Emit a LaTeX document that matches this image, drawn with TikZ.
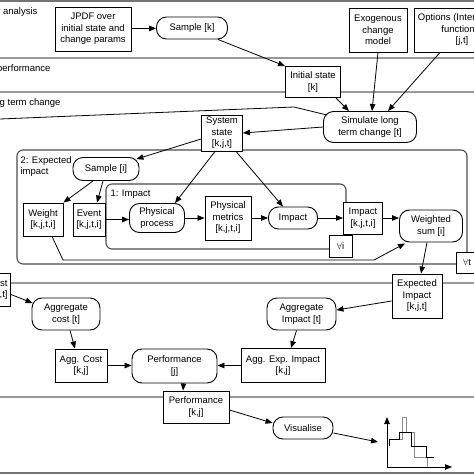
\documentclass[tikz,border=0pt]{standalone}
\usepackage{fontspec}
\setmainfont{Liberation Sans}
\usetikzlibrary{arrows.meta, positioning, calc}

\begin{document}
\begin{tikzpicture}[x=1pt, y=-1pt]
    % --- Style Definitions ---
    \tikzset{
        data box/.style={
            draw=black,
            line width=0.9pt,
            fill=white,
            align=center,
            inner sep=1pt,
            font=\fontsize{9.5}{11.5}\selectfont
        },
        process box/.style={data box, rounded corners=10pt},
        loop box/.style={draw=black!70, line width=1.1pt, rounded corners=6pt},
        band line/.style={draw=black!40, line width=1.4pt},
        edge band/.style={draw=black!55, line width=3pt},
        loop text/.style={font=\fontsize{9.5}{11.5}\selectfont, align=left},
        flow arrow/.style={
            -{Triangle[length=7pt, width=5.5pt]},
            line width=0.8pt,
            black
        },
        chart line/.style={line width=0.9pt}
    }

    \useasboundingbox (0,0) rectangle (474,474);
    \clip (0,0) rectangle (474,474);

    % ==========================================
    % BANDS
    % ==========================================
    \draw[edge band] (0,0.5) -- (474,0.5);
    \draw[band line] (0,58) -- (474,58);
    \draw[band line] (0,92) -- (474,92);
    \draw[band line] (0,283) -- (474,283);
    \draw[band line] (0,397) -- (474,397);
    \draw[edge band] (0,473) -- (474,473);

    \node[loop text, anchor=east] (lbl_analysis) at (41,12) {5: Outer loop for analysis};
    \node[loop text, anchor=east] (lbl_perf) at (54,69) {4: System performance};
    \node[loop text, anchor=east] (lbl_change) at (64,103) {3: Long term change};

    % ==========================================
    % LOOP BOXES
    % ==========================================
    \draw[loop box] (17,150) rectangle (467,264);
    \draw[loop box] (106,184) rectangle (346,249);
    \node[loop text, anchor=north west] (lbl_expected) at (17,153) {2: Expected\\impact};
    \node[loop text, anchor=west] (lbl_impact) at (107,194) {1: Impact};

    % ==========================================
    % TOP: SAMPLING AND SIMULATION
    % ==========================================
    \node[data box, minimum width=76pt, minimum height=44pt] (jpdf) at (93,29) {JPDF over\\initial state and\\change params};
    \node[process box, minimum width=71pt, minimum height=22pt] (samplek) at (192,28) {Sample [k]};
    \node[data box, minimum width=55pt, minimum height=31pt] (initstate) at (313,82) {Initial state\\{[k]}};
    \node[data box, minimum width=58pt, minimum height=44pt] (exog) at (378,30) {Exogenous\\change\\model};
    \node[data box, minimum width=96pt, minimum height=44pt] (options) at (462,30) {Options (Intervention\\functions)\\{[j,t]}};
    \node[process box, minimum width=93pt, minimum height=31pt] (simulate) at (370,127) {Simulate long\\term change [t]};
    \node[data box, minimum width=41pt, minimum height=36pt] (sysstate) at (222,133) {System\\state\\{[k,j,t]}};

    % feedback line into the simulation
    \coordinate (loop_in) at (0,119);
    \coordinate (loop_bend) at (294,107);
    \draw[line width=0.8pt] (loop_in) -- (loop_bend) -- ($(simulate.north west)+(4,4)$);

    % ==========================================
    % MIDDLE: IMPACT LOOPS
    % ==========================================
    \node[process box, minimum width=66pt, minimum height=23pt] (samplei) at (106,169) {Sample [i]};
    \node[data box, minimum width=40pt, minimum height=33pt] (weight) at (43,219.5) {Weight\\{[k,j,t,i]}};
    \node[data box, minimum width=32pt, minimum height=33pt] (event) at (89,219.5) {Event\\{[k,j,t,i]}};
    \node[process box, minimum width=55pt, minimum height=29pt] (physproc) at (157,218) {Physical\\process};
    \node[data box, minimum width=46pt, minimum height=44pt] (physmet) at (228,218) {Physical\\metrics\\{[k,j,t,i]}};
    \node[process box, minimum width=49pt, minimum height=22pt] (impact) at (293,218) {Impact};
    \node[data box, minimum width=39pt, minimum height=32pt] (impactk) at (363,218) {Impact\\{[k,j,t,i]}};
    \node[process box, minimum width=63pt, minimum height=32pt] (wsum) at (431,226) {Weighted\\sum [i]};
    \node[data box, minimum width=23pt, minimum height=22pt] (foralli) at (340.5,246) {$\forall$i};
    \node[data box, minimum width=22pt, minimum height=21pt] (forallt) at (467,262.5) {$\forall$t};

    % ==========================================
    % LOWER: AGGREGATION AND PERFORMANCE
    % ==========================================
    \node[data box, align=right, inner xsep=3pt, minimum height=33pt, anchor=east] (cost) at (11,289.5) {Expected cost\\{[k,j,t]}};
    \node[data box, minimum width=50pt, minimum height=44pt] (expimpact) at (417,296) {Expected\\Impact\\{[k,j,t]}};
    \node[process box, minimum width=68pt, minimum height=32pt] (aggcost) at (66,314) {Aggregate\\cost [t]};
    \node[process box, minimum width=69pt, minimum height=32pt] (aggimp) at (301.5,314) {Aggregate\\Impact [t]};
    \node[data box, minimum width=52pt, minimum height=33pt] (aggcostkj) at (81,365.5) {Agg. Cost\\{[k,j]}};
    \node[process box, minimum width=85pt, minimum height=34pt] (perfj) at (174.5,366) {Performance\\{[j]}};
    \node[data box, minimum width=84pt, minimum height=34pt] (aggexpimp) at (283,365.5) {Agg. Exp. Impact\\{[k,j]}};
    \node[data box, minimum width=66pt, minimum height=32pt] (perfkj) at (196,407) {Performance\\{[k,j]}};
    \node[process box, minimum width=60pt, minimum height=22pt] (visualise) at (303,428) {Visualise};

    % ==========================================
    % CONNECTORS
    % ==========================================
    \draw[flow arrow] (jpdf) -- (samplek);
    \draw[flow arrow] ($(samplek.south east)+(-10,0)$) -- (initstate.north west);
    \draw[flow arrow] ($(initstate.south east)+(-5,0)$) -- ($(simulate.north)+(-21,0)$);
    \draw[flow arrow] (exog.south) -- ($(simulate.north)+(2,0)$);
    \draw[flow arrow] ($(options.south)+(-22,0)$) -- ($(simulate.north)+(18,0)$);
    \draw[flow arrow] (simulate.west) -- (sysstate.east);

    \draw[flow arrow] ($(sysstate.west)+(0,6)$) -- ($(samplei.north east)+(-3,2)$);
    \draw[flow arrow] ($(sysstate.south)+(-7,0)$) -- ($(physproc.north)+(18,0)$);
    \draw[flow arrow] ($(sysstate.south)+(14,0)$) -- ($(impact.north)+(-10,0)$);
    \draw[flow arrow] ($(samplei.south)+(-13,0)$) -- (weight.north east);
    \draw[flow arrow] ($(samplei.south)+(-3,0)$) -- ($(event.north)+(8,0)$);
    \draw[flow arrow] (event.east) -- (event.east -| physproc.west);
    \draw[flow arrow] (physproc) -- (physmet);
    \draw[flow arrow] (physmet) -- (impact);
    \draw[flow arrow] (impact) -- (impactk);
    \draw[flow arrow] (impactk.east) -- (impactk.east -| wsum.west);

    \coordinate (wbend1) at (63,260);
    \coordinate (wbend2) at (374,260);
    \draw[flow arrow] ($(weight.south)+(9,0)$) -- (wbend1) -- (wbend2) -- ($(wsum.south)+(-26,1)$);

    \draw[flow arrow] ($(wsum.south)+(-4,0)$) -- ($(expimpact.north)+(4,0)$);
    \draw[flow arrow] ($(expimpact.west)+(0,5)$) -- ($(aggimp.east)+(0,-4)$);
    \draw[flow arrow] ($(aggimp.south)+(-5,0)$) -- ($(aggexpimp.north)+(8,0)$);
    \draw[flow arrow] ($(cost.east)+(0,5)$) -- ($(aggcost.west)+(1,-11)$);
    \draw[flow arrow] ($(aggcost.south)+(4,0)$) -- ($(aggcostkj.north)+(-6,0)$);
    \draw[flow arrow] (aggcostkj.east) -- (aggcostkj.east -| perfj.west);
    \draw[flow arrow] (aggexpimp.west) -- (aggexpimp.west -| perfj.east);
    \draw[flow arrow] ($(perfj.south)+(9,0)$) -- ($(perfkj.north)+(-13,0)$);
    \draw[flow arrow] ($(perfkj.east)+(0,3)$) -- ($(visualise.west)+(0,-5)$);

    % ==========================================
    % RESULT CHART
    % ==========================================
    \coordinate (origin) at (387,467);
    \coordinate (chart_in) at (378,442);
    \draw[flow arrow] ($(visualise.east)+(0,5)$) -- (chart_in);
    \draw[flow arrow] (origin) -- (387,417);
    \draw[flow arrow] (origin) -- (452,467);
    \draw[chart line, black!45] (399,439) -- (402,439) -- (402,417) -- (406,417) -- (406,432) -- (414,432) -- (414,457) -- (427,457) -- (427,467);
    \draw[chart line] (389,446) -- (389,439) -- (399,439) -- (399,432) -- (411,432) -- (411,446) -- (426,446) -- (426,457) -- (434,457);

\end{tikzpicture}
\end{document}
